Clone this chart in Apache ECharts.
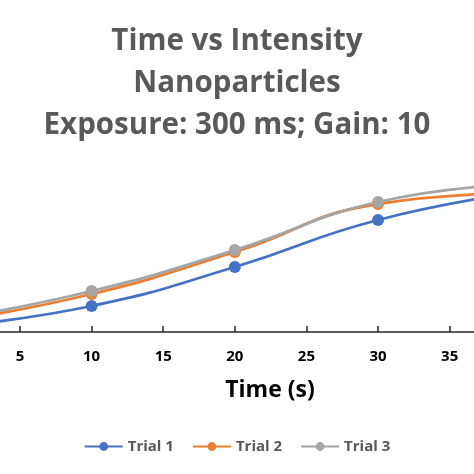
<!DOCTYPE html>
<html>
<head>
<meta charset="utf-8">
<script src="https://cdn.jsdelivr.net/npm/echarts@6/dist/echarts.min.js"></script>
<style>
  html, body { margin: 0; padding: 0; background: #fff; }
  #main { width: 474px; height: 474px; }
</style>
</head>
<body>
<div id="main"></div>
<script>
// time points (s); the plot is cropped so 0 and 40 fall just outside the frame
var times = [0, 10, 20, 30, 40];
var trial1 = [50, 260, 650, 1120, 1400];
var trial2 = [100, 380, 800, 1280, 1390];
var trial3 = [120, 410, 820, 1300, 1480];
var tickValues = [5, 10, 15, 20, 25, 30, 35];
var seriesNames = ['Trial 1', 'Trial 2', 'Trial 3'];
var seriesColors = ['#4472C4', '#ED7D31', '#A5A5A5'];

function pairs(xs, ys) {
    var out = [];
    for (var i = 0; i < xs.length; i++) out.push([xs[i], ys[i]]);
    return out;
}

var chart = echarts.init(document.getElementById('main'));
var allData = [trial1, trial2, trial3];
var series = [];
for (var k = 0; k < allData.length; k++) {
    series.push({
        name: seriesNames[k],
        type: 'line',
        data: pairs(times, allData[k]),
        smooth: 0.5,
        symbol: 'circle',
        symbolSize: 12,
        clip: true,
        lineStyle: { width: 2.8, color: seriesColors[k] },
        itemStyle: { color: seriesColors[k] }
    });
}

var option = {
    animation: false,
    backgroundColor: '#ffffff',
    title: {
        text: 'Time vs Intensity\nNanoparticles\nExposure: 300 ms; Gain: 10',
        left: 'center',
        top: 16,
        textStyle: {
            fontFamily: 'Open Sans',
            fontWeight: 'bold',
            fontSize: 29.5,
            lineHeight: 42,
            color: '#595959'
        }
    },
    legend: {
        bottom: 15,
        left: 'center',
        itemWidth: 38,
        itemHeight: 11,
        itemGap: 18,
        textStyle: {
            fontFamily: 'Open Sans',
            fontWeight: 'bold',
            fontSize: 15,
            color: '#595959'
        },
        data: seriesNames
    },
    grid: {
        left: 0,
        right: 0,
        top: 182,
        bottom: 142,
        containLabel: false
    },
    xAxis: {
        type: 'value',
        min: 3.603,
        max: 36.70,
        name: 'Time (s)',
        nameLocation: 'middle',
        nameGap: 47,
        nameTextStyle: {
            fontFamily: 'Open Sans',
            fontWeight: 'bold',
            fontSize: 23,
            color: '#000000',
            padding: [0, 0, 0, 66]
        },
        axisLine: { lineStyle: { color: '#262626', width: 1.5 } },
        axisTick: {
            inside: true, length: 6,
            customValues: tickValues,
            lineStyle: { color: '#262626', width: 1.5 }
        },
        axisLabel: {
            customValues: tickValues,
            fontFamily: 'Open Sans',
            fontWeight: 'bold',
            fontSize: 15,
            color: '#000000',
            margin: 17
        },
        splitLine: { show: false }
    },
    yAxis: {
        type: 'value',
        min: 0,
        max: 1500,
        show: false,
        splitLine: { show: false }
    },
    series: series
};
chart.setOption(option);
</script>
</body>
</html>
